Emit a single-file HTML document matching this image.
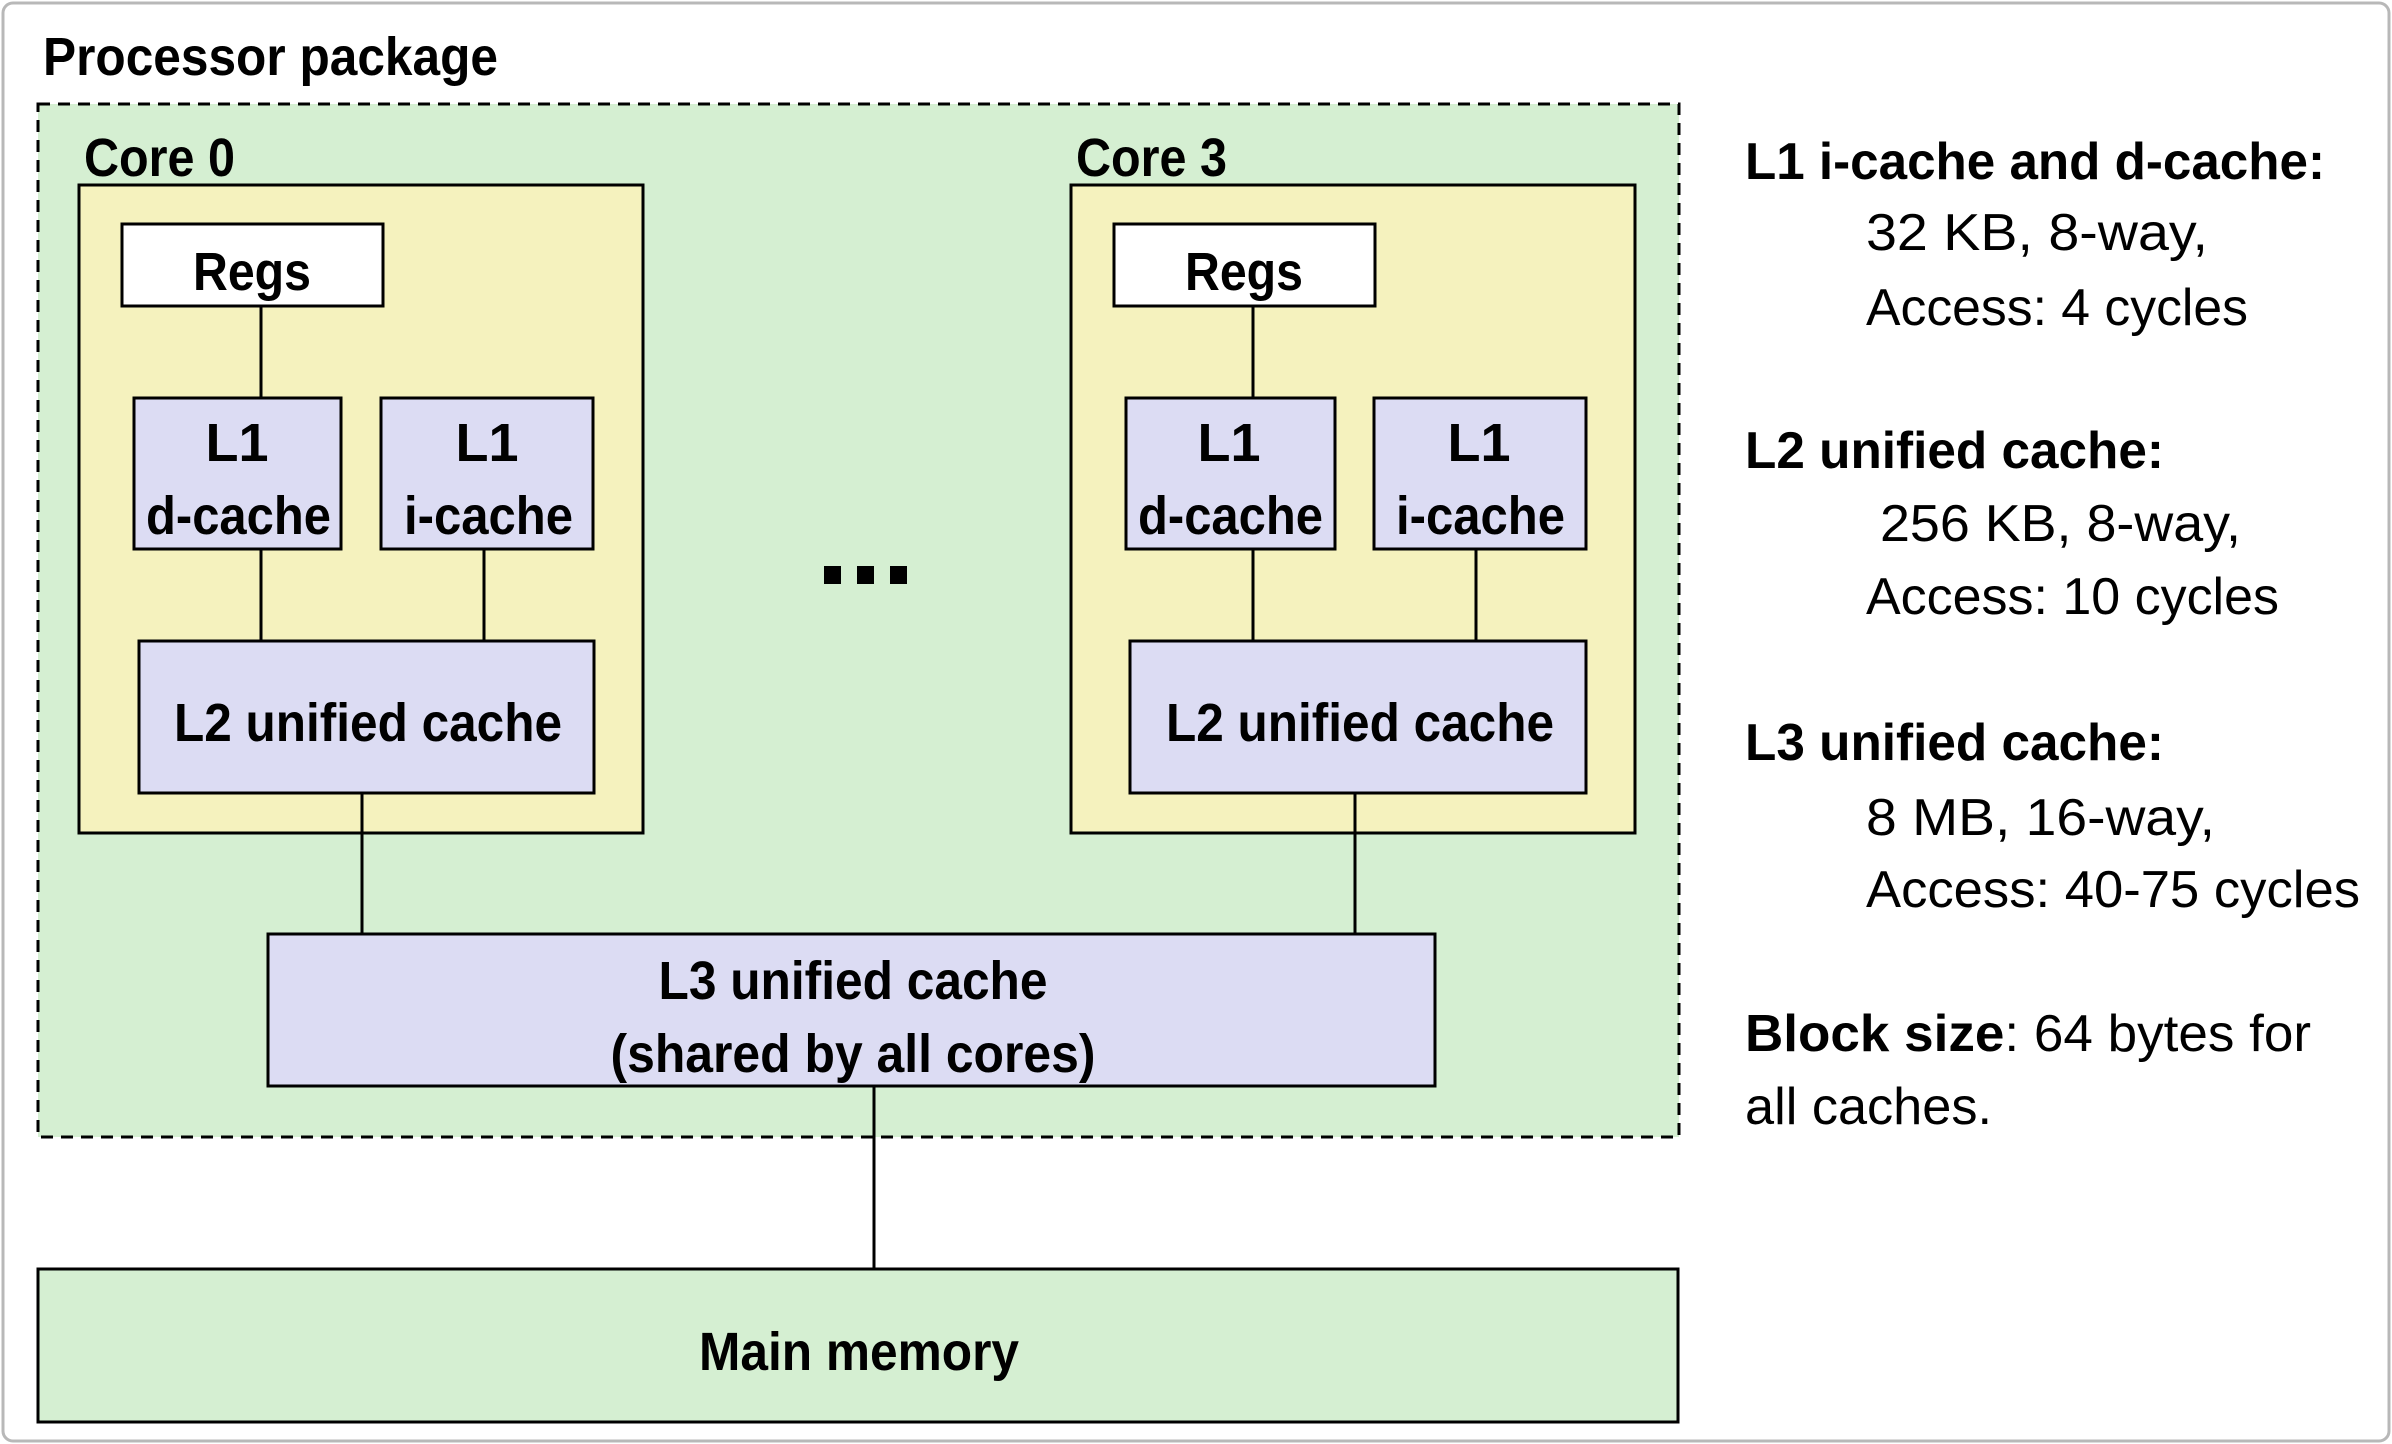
<!DOCTYPE html>
<html><head><meta charset="utf-8"><style>
html,body{margin:0;padding:0;background:#fff;}
svg{display:block;}
text{font-family:"Liberation Sans",Arial,sans-serif;}
.b{font-weight:bold;font-size:54px;fill:#000;}
.r{font-size:52px;fill:#000;}
</style></head><body>
<svg width="2392" height="1444" viewBox="0 0 2392 1444" xmlns="http://www.w3.org/2000/svg">
<rect x="3" y="3" width="2386" height="1438" rx="10" fill="#fff" stroke="#b8b8b8" stroke-width="3"/>
<text class="b" x="43" y="75" textLength="455" lengthAdjust="spacingAndGlyphs">Processor package</text>
<rect x="38" y="104" width="1641" height="1033" fill="#d5efd2" stroke="#000" stroke-width="3" stroke-dasharray="12,8"/>
<!-- connectors -->
<g stroke="#000" stroke-width="3">
<line x1="261" y1="306" x2="261" y2="398"/><line x1="261" y1="549" x2="261" y2="641"/><line x1="484" y1="549" x2="484" y2="641"/>
<line x1="1253" y1="306" x2="1253" y2="398"/><line x1="1253" y1="549" x2="1253" y2="641"/><line x1="1476" y1="549" x2="1476" y2="641"/>
</g>
<g id="c0">
<rect x="79" y="185" width="564" height="648" fill="#f5f2be" stroke="#000" stroke-width="3"/>
<line x1="261" y1="306" x2="261" y2="398" stroke="#000" stroke-width="3"/>
<line x1="261" y1="549" x2="261" y2="641" stroke="#000" stroke-width="3"/>
<line x1="484" y1="549" x2="484" y2="641" stroke="#000" stroke-width="3"/>
<line x1="362" y1="793" x2="362" y2="934" stroke="#000" stroke-width="3"/>
<rect x="122" y="224" width="261" height="82" fill="#fff" stroke="#000" stroke-width="3"/>
<rect x="134" y="398" width="207" height="151" fill="#dcdcf3" stroke="#000" stroke-width="3"/>
<rect x="381" y="398" width="212" height="151" fill="#dcdcf3" stroke="#000" stroke-width="3"/>
<rect x="139" y="641" width="455" height="152" fill="#dcdcf3" stroke="#000" stroke-width="3"/>
<text class="b" x="84" y="176" textLength="151" lengthAdjust="spacingAndGlyphs">Core 0</text>
<text class="b" x="193" y="290" textLength="118" lengthAdjust="spacingAndGlyphs">Regs</text>
<text class="b" x="237" y="461" text-anchor="middle">L1</text>
<text class="b" x="146" y="534" textLength="185" lengthAdjust="spacingAndGlyphs">d-cache</text>
<text class="b" x="487" y="461" text-anchor="middle">L1</text>
<text class="b" x="404" y="534" textLength="169" lengthAdjust="spacingAndGlyphs">i-cache</text>
<text class="b" x="174" y="741" textLength="388" lengthAdjust="spacingAndGlyphs">L2 unified cache</text>
</g>
<g transform="translate(992,0)">
<rect x="79" y="185" width="564" height="648" fill="#f5f2be" stroke="#000" stroke-width="3"/>
<line x1="261" y1="306" x2="261" y2="398" stroke="#000" stroke-width="3"/>
<line x1="261" y1="549" x2="261" y2="641" stroke="#000" stroke-width="3"/>
<line x1="484" y1="549" x2="484" y2="641" stroke="#000" stroke-width="3"/>
<line x1="363" y1="793" x2="363" y2="934" stroke="#000" stroke-width="3"/>
<rect x="122" y="224" width="261" height="82" fill="#fff" stroke="#000" stroke-width="3"/>
<rect x="134" y="398" width="209" height="151" fill="#dcdcf3" stroke="#000" stroke-width="3"/>
<rect x="382" y="398" width="212" height="151" fill="#dcdcf3" stroke="#000" stroke-width="3"/>
<rect x="138" y="641" width="456" height="152" fill="#dcdcf3" stroke="#000" stroke-width="3"/>
<text class="b" x="84" y="176" textLength="151" lengthAdjust="spacingAndGlyphs">Core 3</text>
<text class="b" x="193" y="290" textLength="118" lengthAdjust="spacingAndGlyphs">Regs</text>
<text class="b" x="237" y="461" text-anchor="middle">L1</text>
<text class="b" x="146" y="534" textLength="185" lengthAdjust="spacingAndGlyphs">d-cache</text>
<text class="b" x="487" y="461" text-anchor="middle">L1</text>
<text class="b" x="404" y="534" textLength="169" lengthAdjust="spacingAndGlyphs">i-cache</text>
<text class="b" x="174" y="741" textLength="388" lengthAdjust="spacingAndGlyphs">L2 unified cache</text>
</g>
<g fill="#000"><rect x="824" y="566" width="17" height="18"/><rect x="857" y="566" width="17" height="18"/><rect x="890" y="566" width="17" height="18"/></g>
<line x1="874" y1="1086" x2="874" y2="1269" stroke="#000" stroke-width="3"/>
<rect x="268" y="934" width="1167" height="152" fill="#dcdcf3" stroke="#000" stroke-width="3"/>
<text class="b" x="853" y="999" text-anchor="middle" textLength="389" lengthAdjust="spacingAndGlyphs">L3 unified cache</text>
<text class="b" x="853" y="1072" text-anchor="middle" textLength="485" lengthAdjust="spacingAndGlyphs">(shared by all cores)</text>
<rect x="38" y="1269" width="1640" height="153" fill="#d5efd2" stroke="#000" stroke-width="3"/>
<text class="b" x="699" y="1370" textLength="320" lengthAdjust="spacingAndGlyphs">Main memory</text>
<!-- right text -->
<text class="r" font-weight="bold" x="1745" y="179" textLength="580" lengthAdjust="spacingAndGlyphs">L1 i-cache and d-cache:</text>
<text class="r" x="1866" y="250" textLength="342" lengthAdjust="spacingAndGlyphs">32 KB,  8-way,</text>
<text class="r" x="1866" y="325" textLength="382" lengthAdjust="spacingAndGlyphs">Access: 4 cycles</text>
<text class="r" font-weight="bold" x="1745" y="468" textLength="419" lengthAdjust="spacingAndGlyphs">L2 unified cache:</text>
<text class="r" x="1880" y="541" textLength="361" lengthAdjust="spacingAndGlyphs">256 KB, 8-way,</text>
<text class="r" x="1866" y="614" textLength="413" lengthAdjust="spacingAndGlyphs">Access: 10 cycles</text>
<text class="r" font-weight="bold" x="1745" y="760" textLength="419" lengthAdjust="spacingAndGlyphs">L3 unified cache:</text>
<text class="r" x="1866" y="835" textLength="349" lengthAdjust="spacingAndGlyphs">8 MB, 16-way,</text>
<text class="r" x="1866" y="907" textLength="494" lengthAdjust="spacingAndGlyphs">Access: 40-75 cycles</text>
<text class="r" x="1745" y="1051" textLength="566" lengthAdjust="spacingAndGlyphs"><tspan font-weight="bold">Block size</tspan>: 64 bytes for</text>
<text class="r" x="1745" y="1124" textLength="247" lengthAdjust="spacingAndGlyphs">all caches.</text>
</svg>
</body></html>
